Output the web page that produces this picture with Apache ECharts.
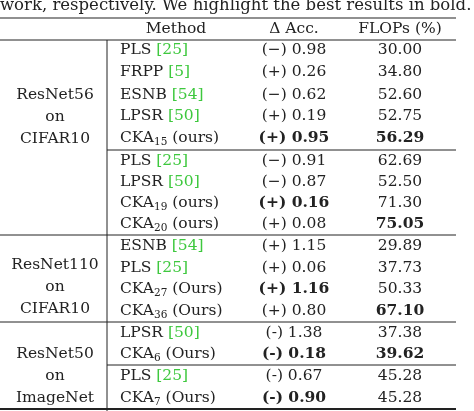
<!DOCTYPE html>
<html><head><meta charset="utf-8">
<script src="https://cdn.jsdelivr.net/npm/echarts@6/dist/echarts.min.js"></script>
<style>html,body{margin:0;padding:0;background:#fff}#c{width:474px;height:411px}</style>
</head><body><div id="c"></div>
<script>
const caption = "work, respectively. We highlight the best results in bold.";
const headers = ["Method", "Δ Acc.", "FLOPs (%)"];
const groupNames = [["ResNet56","on","CIFAR10"],["ResNet110","on","CIFAR10"],["ResNet50","on","ImageNet"]];
const methods = ["PLS","FRPP","ESNB","LPSR","CKA","PLS","LPSR","CKA","CKA","ESNB","PLS","CKA","CKA","LPSR","CKA","PLS","CKA"];
const cites   = ["25","5","54","50","","25","50","","","54","25","","","50","","25",""];
const subs    = ["","","","","15","","","19","20","","","27","36","","6","","7"];
const ours    = ["","","","","(ours)","","","(ours)","(ours)","","","(Ours)","(Ours)","","(Ours)","","(Ours)"];
const signs   = ["(−)","(+)","(−)","(+)","(+)","(−)","(−)","(+)","(+)","(+)","(+)","(+)","(+)","(-)","(-)","(-)","(-)"];
const accs    = ["0.98","0.26","0.62","0.19","0.95","0.91","0.87","0.16","0.08","1.15","0.06","1.16","0.80","1.38","0.18","0.67","0.90"];
const flops   = ["30.00","34.80","52.60","52.75","56.29","62.69","52.50","71.30","75.05","29.89","37.73","50.33","67.10","37.38","39.62","45.28","45.28"];
const boldAcc = [0,0,0,0,1,0,0,1,0,0,0,1,0,0,1,0,1];
const boldFl  = [0,0,0,0,1,0,0,0,1,0,0,0,1,0,1,0,0];
const rowY    = [50,72,95,116,138,161,182,203,224,246,268,289,311,333,354,376,398];
const groupY  = [[95,117,139],[265,287,309],[354,376,398]];

const F = "'DejaVu Serif', serif", FS = 15.5, col = "#222";
const els = [];
const line = (x1,y1,x2,y2,w)=>els.push({type:'line',shape:{x1,y1,x2,y2},style:{stroke:'#222',lineWidth:w||1}});
const txt = (x,y,t,align,rich,bold,fs)=>els.push({type:'text',x,y,style:{text:t,align:align||'center',verticalAlign:'middle',font:(bold?'bold ':'')+(fs||FS)+'px '+F,fill:col,rich:rich}});
const rich = {n:{fontFamily:F,fontSize:FS,fill:col},s:{fontFamily:F,fontSize:10.5,fill:col,verticalAlign:'bottom',padding:[8,0,0,0]},c:{fontFamily:F,fontSize:FS,fill:'#3ec83e'}};

txt(0,6,caption,'left',null,false,16.5);
line(0,18,456,18,1.2); line(0,40,456,40); line(107,40,107,411);
line(107,150,456,150); line(0,235,456,235); line(0,322,456,322); line(107,365,456,365); line(0,409,456,409,2);
txt(176,29,headers[0]); txt(294,29,headers[1]); txt(400,29,headers[2]);
groupNames.forEach((g,i)=>g.forEach((t,j)=>txt(55,groupY[i][j],t)));
methods.forEach((m,i)=>{
  let s = '{n|'+m+'}';
  if (subs[i]) s += '{s|'+subs[i]+'}{n| '+ours[i]+'}';
  if (cites[i]) s += '{n| }{c|['+cites[i]+']}';
  txt(120,rowY[i],s,'left',rich);
  txt(294,rowY[i],signs[i]+' '+accs[i],'center',null,boldAcc[i]);
  txt(400,rowY[i],flops[i],'center',null,boldFl[i]);
});
const chart = echarts.init(document.getElementById('c'));
chart.setOption({animation:false,graphic:{elements:els}});
</script></body></html>
